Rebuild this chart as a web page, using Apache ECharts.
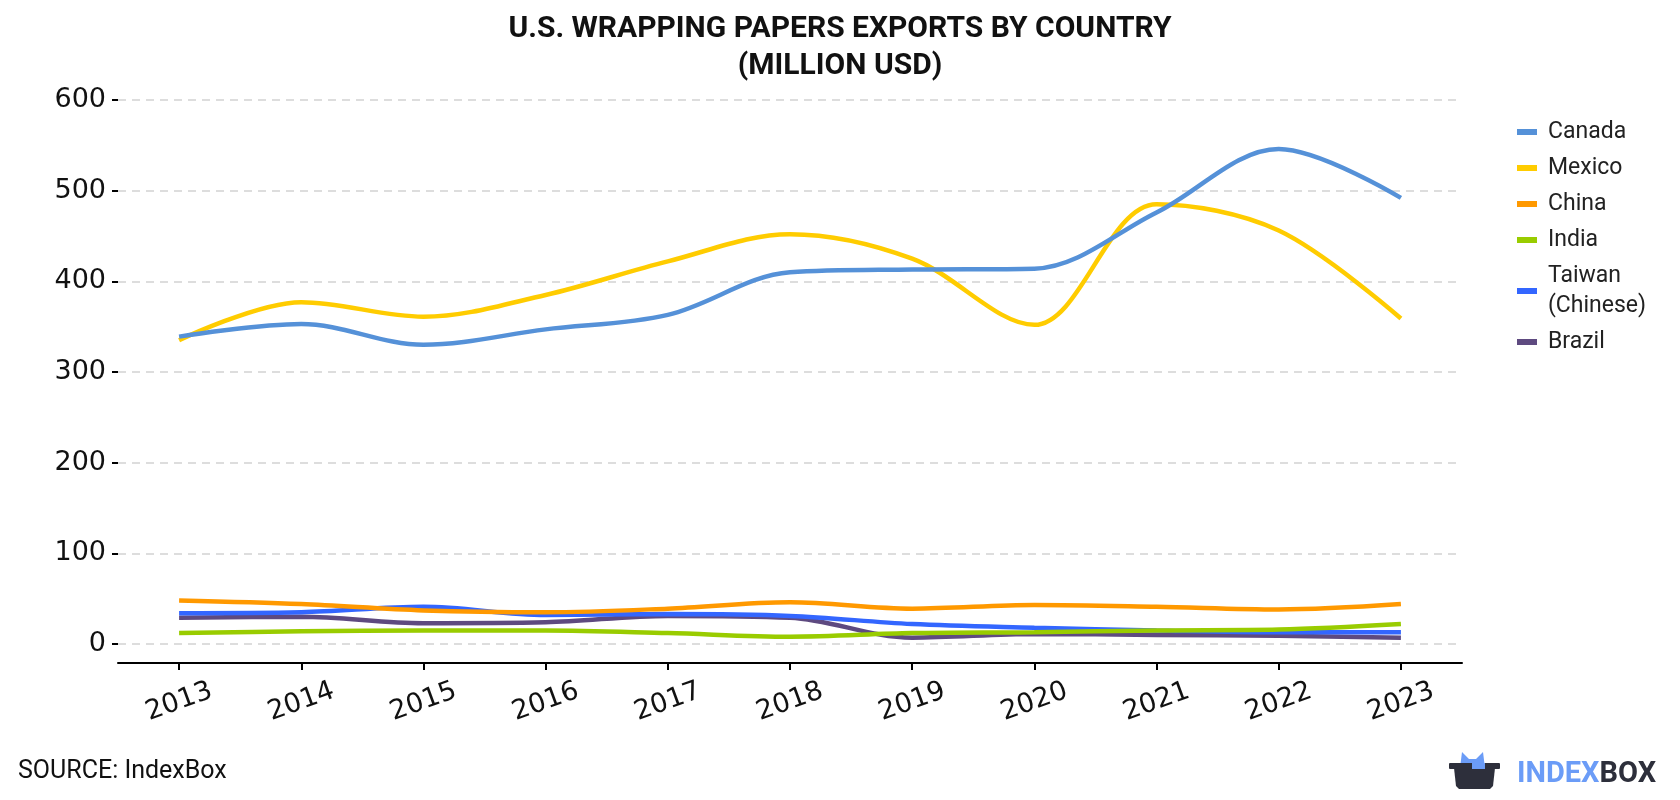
<!DOCTYPE html>
<html>
<head>
<meta charset="utf-8">
<script src="https://cdn.jsdelivr.net/npm/echarts@6/dist/echarts.min.js"></script>
<style>html,body{margin:0;padding:0;background:#fff;}#c{width:1680px;height:800px;}</style>
</head>
<body>
<div id="c"></div>
<script>
const years = ['2013','2014','2015','2016','2017','2018','2019','2020','2021','2022','2023'];
const canada = [339, 353, 330, 347, 363, 410, 413, 414, 476, 546, 492];
const mexico = [335, 377, 361, 385, 422, 452, 425, 352, 485, 456, 359];
const china  = [48, 44, 37, 35, 39, 46, 39, 43, 41, 38, 44];
const india  = [12, 14, 15, 15, 12, 8, 12, 13, 15, 16, 22];
const taiwan = [34, 35, 41, 32, 33, 31, 22, 18, 15, 13, 13];
const brazil = [29, 30, 23, 24, 31, 29, 7, 11, 10, 9, 7];
const yTicks = [0, 100, 200, 300, 400, 500, 600];

const names = ['Canada','Mexico','China','India','Taiwan (Chinese)','Brazil'];
const colors = ['#5591d8','#ffcc00','#ff9900','#99cc00','#3366ff','#5e4a80'];
const dataSets = [canada, mexico, china, india, taiwan, brazil];

const chart = echarts.init(document.getElementById('c'), null, {renderer:'canvas'});
chart.setOption({
  backgroundColor: '#ffffff',
  animation: false,
  color: colors,
  title: {
    text: 'U.S. WRAPPING PAPERS EXPORTS BY COUNTRY\n(MILLION USD)',
    left: 'center', top: 6,
    textStyle: { fontFamily: 'Roboto', fontWeight: 'bold', fontSize: 30, lineHeight: 37, color: '#111' }
  },
  legend: {
    orient: 'vertical', left: 1512, top: 112,
    icon: 'rect', itemWidth: 20, itemHeight: 6, itemGap: 6,
    data: names,
    formatter: n => n.replace(' (', '\n('),
    textStyle: { fontFamily: 'Roboto', fontSize: 23, lineHeight: 30, color: '#222', padding: [0,0,0,6] }
  },
  grid: { left: 118, right: 218, top: 100, bottom: 156 },
  xAxis: {
    type: 'category', data: years, boundaryGap: true, offset: 19,
    axisLine: { show: true, onZero: false, lineStyle: { color: '#000', width: 2 } },
    axisTick: { show: true, alignWithLabel: true, length: 7, lineStyle: { color: '#000', width: 2 } },
    axisLabel: { rotate: 20, align: 'center', verticalAlign: 'middle', margin: 39,
      fontFamily: 'DejaVu Sans', fontSize: 27, color: '#111' },
    splitLine: { show: false }
  },
  yAxis: {
    type: 'value', min: 0, max: 600, interval: 100,
    axisLine: { show: false },
    axisTick: { show: true, length: 6, lineStyle: { color: '#000', width: 2 } },
    axisLabel: { margin: 12, fontFamily: 'DejaVu Sans', fontSize: 27, color: '#111',
      formatter: v => yTicks.includes(v) ? String(v) : '' },
    splitLine: { show: true, lineStyle: { color: '#dddddd', width: 2, type: [8, 6] } }
  },
  series: dataSets.map((d, i) => ({
    name: names[i], type: 'line', data: d, smooth: 0.34, symbol: 'none',
    lineStyle: { width: 4.5, color: colors[i] }, z: 10 - i
  })),
  graphic: [
    { type: 'text', left: 18, top: 759, style: { text: 'SOURCE: IndexBox', fontFamily: 'Roboto', fontSize: 25, fill: '#111' } },
    { type: 'polygon', shape: { points: [[1460,768],[1462,752],[1469,759],[1476,759],[1483,752],[1485,768]] }, style: { fill: '#6b9cf7' } },
    { type: 'rect', shape: { x: 1449, y: 763, width: 51, height: 6, r: 1 }, style: { fill: '#2d2f3b' } },
    { type: 'polygon', shape: { points: [[1454,768],[1495,768],[1493,786],[1490,789],[1459,789],[1456,786]] }, style: { fill: '#2d2f3b' } },
    { type: 'rect', shape: { x: 1472, y: 763, width: 13, height: 6 }, style: { fill: '#6b9cf7' } },
    { type: 'text', left: 1517, top: 760, style: {
      text: '{a|INDEX}{b|BOX}',
      rich: {
        a: { fontFamily: 'Roboto', fontWeight: 'bold', fontSize: 29, fill: '#6b9cf7', color: '#6b9cf7' },
        b: { fontFamily: 'Roboto', fontWeight: 'bold', fontSize: 29, fill: '#2d2f3b', color: '#2d2f3b' }
      } } }
  ]
});
</script>
</body>
</html>
